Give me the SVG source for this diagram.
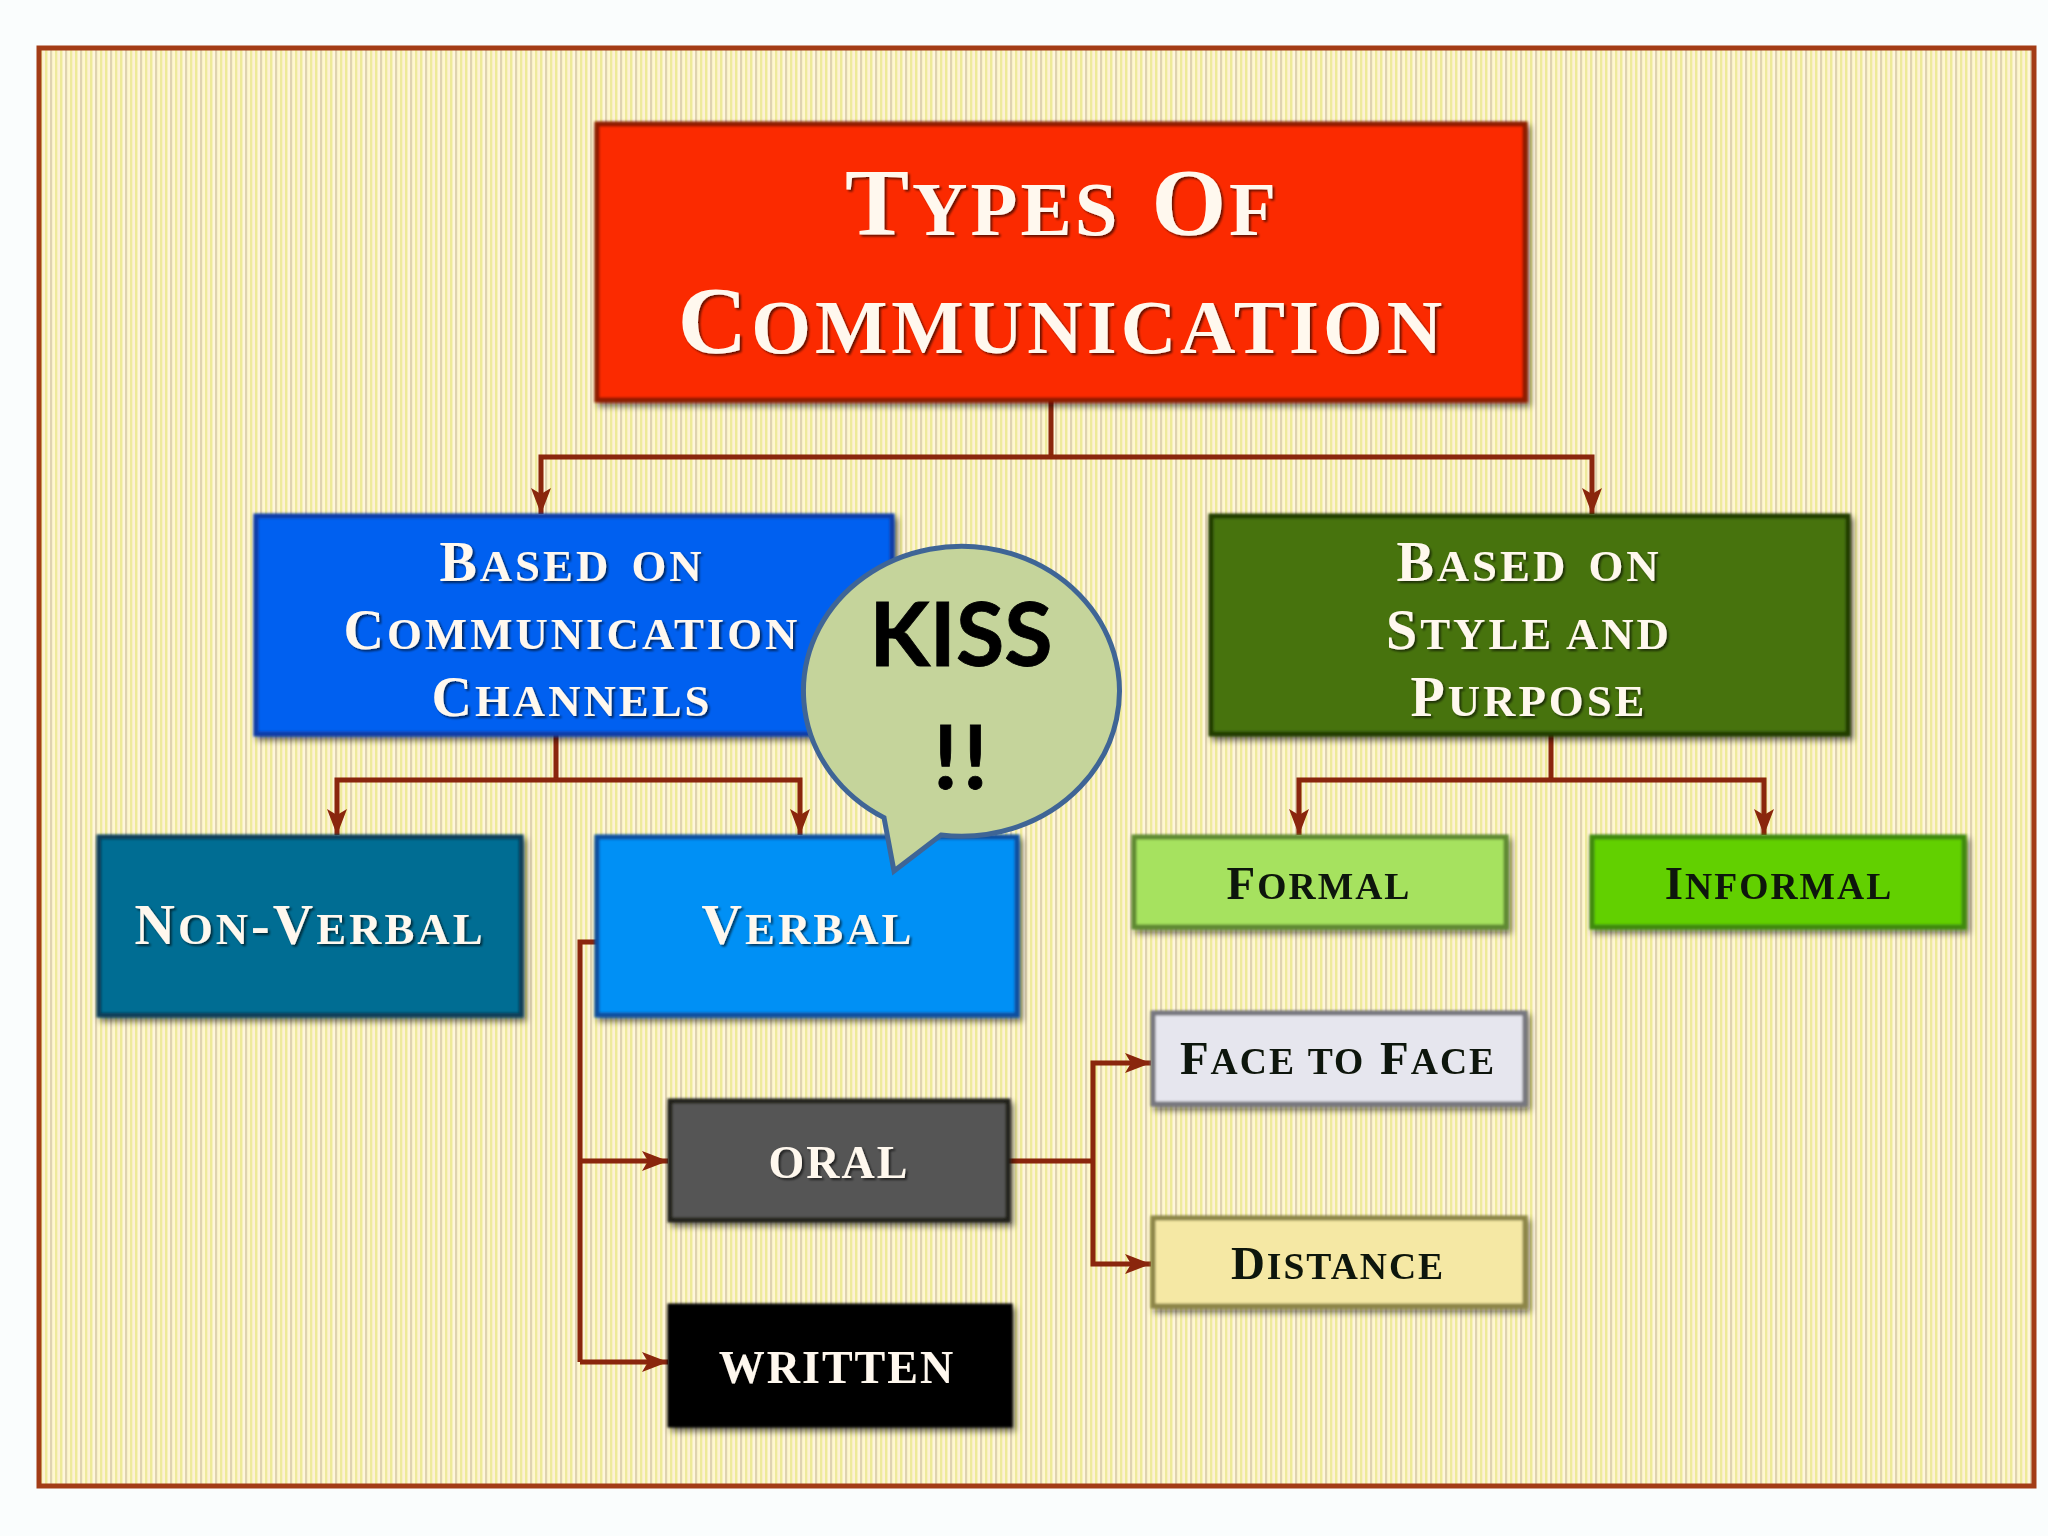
<svg xmlns="http://www.w3.org/2000/svg" width="2048" height="1536" viewBox="0 0 2048 1536">
<style>
.t{font-family:"Liberation Serif","Times New Roman",serif;font-weight:700;text-anchor:middle}
.s{font-size:80%}
.w{fill:#fff8ee;filter:url(#ts)}
.k{fill:#0e1408;filter:url(#tw)}
.b{filter:url(#ds);stroke-width:5}
.c{fill:none;stroke:#8a2608;stroke-width:5;filter:url(#lb)}
.a{marker-end:url(#arr)}
.ks{font-family:Lato,"Noto Sans",sans-serif;font-weight:700;font-size:88px;fill:#000;text-anchor:middle;stroke:#000;stroke-width:.8px}
</style>
<defs>
<pattern id="st" width="15" height="10" patternUnits="userSpaceOnUse">
<rect width="15" height="10" fill="#fbf3c6"/>
<rect x="0" width="2.6" height="10" fill="#eeea98"/>
<rect x="2.6" width="2.4" height="10" fill="#fff6dc"/>
<rect x="5" width="2.4" height="10" fill="#dfd3b0"/>
<rect x="7.4" width="2.6" height="10" fill="#fff7cf"/>
<rect x="10" width="2.5" height="10" fill="#eeea9c"/>
<rect x="12.5" width="2.5" height="10" fill="#fdf1d6"/>
</pattern>
<filter id="ds" x="-5%" y="-8%" width="112%" height="125%">
<feGaussianBlur in="SourceAlpha" stdDeviation="3"/><feOffset dx="3" dy="4"/>
<feComponentTransfer result="sh"><feFuncA type="linear" slope=".55"/></feComponentTransfer>
<feGaussianBlur in="SourceGraphic" stdDeviation="1" result="g"/>
<feMerge><feMergeNode in="sh"/><feMergeNode in="g"/></feMerge>
</filter>
<filter id="ts" x="-5%" y="-15%" width="110%" height="130%">
<feGaussianBlur in="SourceAlpha" stdDeviation="1.2"/><feOffset dx="2" dy="2"/>
<feComponentTransfer result="sh"><feFuncA type="linear" slope=".6"/></feComponentTransfer>
<feGaussianBlur in="SourceGraphic" stdDeviation=".6" result="g"/>
<feMerge><feMergeNode in="sh"/><feMergeNode in="g"/></feMerge>
</filter>
<filter id="tw" x="-5%" y="-15%" width="110%" height="130%">
<feGaussianBlur in="SourceGraphic" stdDeviation=".6"/>
</filter>
<filter id="lb" filterUnits="userSpaceOnUse" x="0" y="0" width="2048" height="1536">
<feGaussianBlur stdDeviation=".6"/>
</filter>
<marker id="arr" markerUnits="userSpaceOnUse" markerWidth="34" markerHeight="26" viewBox="0 0 34 26" refX="32" refY="13" orient="auto">
<path d="M32 13 L6 3 L12 13 L6 23 Z" fill="#8a2608"/>
</marker>
</defs>
<rect width="2048" height="1536" fill="#fafdfd"/>
<g id="frame"><rect x="39" y="48" width="1995" height="1438" fill="url(#st)" stroke="#a33c16" stroke-width="5"/></g>
<g id="connectors">
<path class="c" d="M1051 400V457"/>
<path class="c a" d="M1051 457H541V514"/>
<path class="c a" d="M1051 457H1592V514"/>
<path class="c" d="M556 734V780"/>
<path class="c a" d="M556 780H337V835"/>
<path class="c a" d="M556 780H800V835"/>
<path class="c" d="M1551 734V780"/>
<path class="c a" d="M1551 780H1299V835"/>
<path class="c a" d="M1551 780H1764V835"/>
<path class="c" d="M597 942H580V1362"/>
<path class="c a" d="M580 1161H668"/>
<path class="c a" d="M580 1362H668"/>
<path class="c" d="M1008 1161H1093"/>
<path class="c a" d="M1093 1161V1063H1151"/>
<path class="c a" d="M1093 1161V1264H1151"/>
</g>
<g id="title"><rect class="b" x="597" y="124" width="928" height="276" fill="#fb2c00" stroke="#8e1a05"/>
<text class="t w" font-size="96" letter-spacing="3" word-spacing="4" x="1062" y="235">T<tspan class="s">YPES</tspan> O<tspan class="s">F</tspan></text>
<text class="t w" font-size="96" letter-spacing="4" x="1062" y="353">C<tspan class="s">OMMUNICATION</tspan></text></g>
<g id="channels"><rect class="b" x="256" y="516" width="636" height="218" fill="#0660f0" stroke="#0a3ea8"/>
<text class="t w" font-size="56" letter-spacing="3" word-spacing="6" x="572" y="581">B<tspan class="s">ASED ON</tspan></text>
<text class="t w" font-size="56" letter-spacing="3" x="572" y="649">C<tspan class="s">OMMUNICATION</tspan></text>
<text class="t w" font-size="56" letter-spacing="3" x="572" y="716">C<tspan class="s">HANNELS</tspan></text></g>
<g id="style-purpose"><rect class="b" x="1211" y="516" width="637" height="218" fill="#47730a" stroke="#243c05"/>
<text class="t w" font-size="56" letter-spacing="3" word-spacing="6" x="1529" y="581">B<tspan class="s">ASED ON</tspan></text>
<text class="t w" font-size="56" letter-spacing="3" x="1529" y="649">S<tspan class="s">TYLE AND</tspan></text>
<text class="t w" font-size="56" letter-spacing="3" x="1529" y="716">P<tspan class="s">URPOSE</tspan></text></g>
<g id="non-verbal"><rect class="b" x="99" y="837" width="422" height="178" fill="#056d93" stroke="#07405a"/>
<text class="t w" font-size="56" letter-spacing="3" x="310" y="944">N<tspan class="s">ON</tspan>-V<tspan class="s">ERBAL</tspan></text></g>
<g id="verbal"><rect class="b" x="597" y="837" width="420" height="178" fill="#0690f5" stroke="#0a4fa0"/>
<text class="t w" font-size="56" letter-spacing="3" x="808" y="944">V<tspan class="s">ERBAL</tspan></text></g>
<g id="formal"><rect class="b" x="1134" y="837" width="372" height="90" fill="#a6e25e" stroke="#5f8a30"/>
<text class="t k" font-size="47" letter-spacing="2" x="1319" y="899">F<tspan class="s">ORMAL</tspan></text></g>
<g id="informal"><rect class="b" x="1592" y="837" width="372" height="90" fill="#62d006" stroke="#3f8a10"/>
<text class="t k" font-size="47" letter-spacing="2" x="1779" y="899">I<tspan class="s">NFORMAL</tspan></text></g>
<g id="face"><rect class="b" x="1153" y="1013" width="372" height="91" fill="#e6e6ee" stroke="#77777f"/>
<text class="t k" font-size="47" letter-spacing="2" word-spacing="1" x="1338" y="1074">F<tspan class="s">ACE TO</tspan> F<tspan class="s">ACE</tspan></text></g>
<g id="distance"><rect class="b" x="1153" y="1218" width="372" height="88" fill="#f5e8a4" stroke="#8d8648"/>
<text class="t k" font-size="47" letter-spacing="2" x="1338" y="1279">D<tspan class="s">ISTANCE</tspan></text></g>
<g id="oral"><rect class="b" x="670" y="1101" width="338" height="119" fill="#555555" stroke="#24241e"/>
<text class="t w" font-size="46" letter-spacing="2" x="839" y="1178">ORAL</text></g>
<g id="written"><rect class="b" x="670" y="1306" width="340" height="119" fill="#050505" stroke="#050505"/>
<text class="t w" font-size="46" letter-spacing="2" x="837" y="1383">WRITTEN</text></g>
<g id="kiss"><path d="M941 835 A158 145 0 1 0 884 817.6 L894 871 Z" fill="#c5d49b" stroke="#3f6596" stroke-width="5" stroke-linejoin="miter"/>
<text class="ks" x="961" y="666">KISS</text>
<text class="ks" letter-spacing="5" x="963" y="789">!!</text></g>
</svg>
